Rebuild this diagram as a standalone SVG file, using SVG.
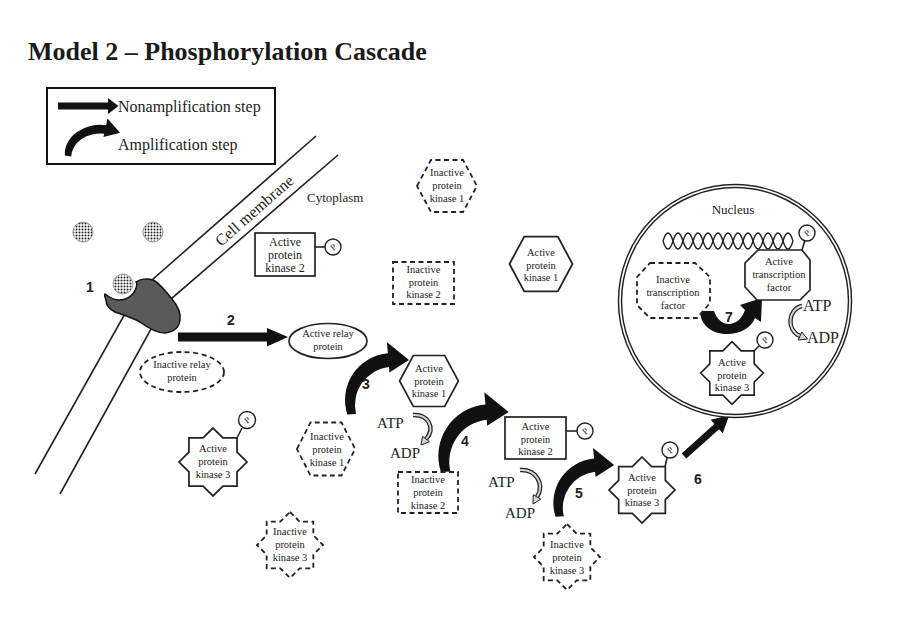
<svg xmlns="http://www.w3.org/2000/svg" width="906" height="617" viewBox="0 0 906 617">
<style>
text{font-family:"Liberation Serif","Times New Roman",serif;fill:#222}
.n{font-size:10.5px;text-anchor:middle}
.big{font-size:15px}
.num{font-family:"Liberation Sans",Arial,sans-serif;font-weight:bold;font-size:14px;text-anchor:middle;fill:#222}
.solid{fill:#fff;stroke:#222;stroke-width:1.7}
.dash{fill:#fff;stroke:#222;stroke-width:1.8;stroke-dasharray:5 3.5}
.line{fill:none;stroke:#222;stroke-width:1.6}
.blk{fill:#111}
.pc{fill:#fff;stroke:#222;stroke-width:1.4}
.pt{font-size:9px;text-anchor:middle}
.hol{fill:none;stroke:#222;stroke-width:4.5}
.holi{fill:none;stroke:#d4d4d4;stroke-width:2}
.hh{fill:#d4d4d4;stroke:#222;stroke-width:1}
.lig{fill:url(#dots);stroke:#999;stroke-width:1}
</style>
<defs>
<pattern id="dots" width="3" height="3" patternUnits="userSpaceOnUse"><rect width="3" height="3" fill="#fff"/><circle cx="1.5" cy="1.5" r="1" fill="#222"/></pattern>
<polygon id="star" points="0,-33 9.67,-23.33 23.33,-23.33 23.33,-9.67 33,0 23.33,9.67 23.33,23.33 9.67,23.33 0,33 -9.67,23.33 -23.33,23.33 -23.33,9.67 -33,0 -23.33,-9.67 -23.33,-23.33 -9.67,-23.33"/>
<polygon id="hex" points="-30,0 -16,-26 16,-26 30,0 16,26 -16,26"/>
<path id="amp" d="M-44.7,14.5 A47,47 0 0 1 -4.1,-46.8 L-5.2,-58 L17,-40 L-2.6,-27.5 L-3,-33 A38.4,38.4 0 0 0 -36,14 Z"/>
</defs>

<rect width="906" height="617" fill="#fff"/>

<text x="28" y="60" font-size="26" font-weight="bold" style="fill:#1a1a1a">Model 2 – Phosphorylation Cascade</text>

<g id="legend">
<rect x="47" y="88" width="228" height="76" fill="#fff" stroke="#111" stroke-width="2"/>
<polygon class="blk" points="58,102.5 108,102.5 108,98 118.5,106 108,114 108,109.5 58,109.5"/>
<use href="#amp" class="blk" transform="translate(100,154) scale(0.75,0.62) rotate(15)"/>
<text x="118" y="112" font-size="16">Nonamplification step</text>
<text x="118" y="150" font-size="16">Amplification step</text>
</g>

<g id="membrane">
<polyline class="line" points="316,136 136,294 35,474"/>
<polyline class="line" points="338,155 164.5,304.6 60,494"/>
<text transform="translate(221,247) rotate(-41.3)" font-size="16">Cell membrane</text>
</g>

<text id="cytoplasm" x="307" y="202" font-size="13">Cytoplasm</text>

<g id="ligand1"><circle class="lig" cx="83" cy="232" r="10"/></g>
<g id="ligand2"><circle class="lig" cx="153" cy="232" r="10"/></g>

<g id="receptor">
<path d="M105,294 C109,297 114,300 119,300 C127,300 134,295 136,288 C137,285 137,283 136,282 C140,279 147,278 153,280 C160,283 166,292 172,299 C177,305 181,313 180,320 C179,327 174,332 165,333 C156,333 148,328 140,322 C133,318 124,315 115,312 C109,309 106,305 106,300 C105,297 104,295 105,294 Z" fill="#5a5a5a" stroke="#111" stroke-width="1.5"/>
<circle class="lig" cx="123" cy="284" r="10"/>
</g>

<g id="connectors">
<polygon class="blk" points="178,332.5 267,332.5 267,328 288,337 267,346.5 267,341.5 178,341.5"/>
<use href="#amp" class="blk" transform="translate(392,400)"/>
<use href="#amp" class="blk" transform="translate(490,456) scale(1.1)"/>
<use href="#amp" class="blk" transform="translate(598,503) scale(0.95)"/>
<polygon class="blk" transform="translate(684,456) rotate(-42)" points="0,-3.5 44,-3.5 44,-9 61,0 44,9 44,3.5 0,3.5"/>
<path class="blk" d="M700,311 C701,340 746,341 755,318 L761,322 L762,298 L740,305 L745,310 C739,328 720,329 714,311 Z"/>
<path class="hol" d="M413,415 C428,414 436,428 426,439"/>
<path class="holi" d="M413,415 C428,414 436,428 426,439"/>
<polygon class="hh" points="429.5,441.7 422.5,436.3 421,445"/>
<path class="hol" d="M520,470 C536,469 545,484 537,497"/>
<path class="holi" d="M520,470 C536,469 545,484 537,497"/>
<polygon class="hh" points="540.8,499.2 533.2,494.8 533,504"/>
<path class="hol" d="M802,306 C788,309 786,330 800,336"/>
<path class="holi" d="M802,306 C788,309 786,330 800,336"/>
<polygon class="hh" points="798.2,340 801.8,332 807.5,339"/>
<text class="num" x="90" y="292">1</text>
<text class="num" x="231" y="325">2</text>
<text class="num" x="366" y="389">3</text>
<text class="num" x="465" y="446">4</text>
<text class="num" x="579" y="498">5</text>
<text class="num" x="698" y="484">6</text>
<text class="num" x="729" y="322">7</text>
</g>

<g id="active-relay">
<ellipse class="solid" cx="328" cy="341" rx="39" ry="17.5"/>
<text class="n" x="328" y="337">Active relay</text>
<text class="n" x="328" y="350">protein</text>
</g>

<g id="inactive-relay">
<ellipse class="dash" cx="182" cy="372" rx="42" ry="20"/>
<text class="n" x="182" y="368">Inactive relay</text>
<text class="n" x="182" y="381">protein</text>
</g>

<g id="active-kinase2-top">
<rect class="solid" x="255" y="233" width="60" height="43"/>
<line class="line" x1="315" y1="247" x2="325" y2="247"/>
<circle class="pc" cx="333" cy="247" r="8"/>
<text class="pt" x="0" y="3.2" transform="translate(333,247) rotate(-40)">P</text>
<text class="n" x="285" y="246" style="font-size:12px">Active</text>
<text class="n" x="285" y="259" style="font-size:12px">protein</text>
<text class="n" x="285" y="272" style="font-size:12px">kinase 2</text>
</g>

<g id="inactive-kinase1-top">
<use href="#hex" class="dash" transform="translate(447,186)"/>
<text class="n" x="447" y="176">Inactive</text>
<text class="n" x="447" y="189">protein</text>
<text class="n" x="447" y="202">kinase 1</text>
</g>

<g id="inactive-kinase2-top">
<rect class="dash" x="393" y="262" width="61" height="42"/>
<text class="n" x="423.5" y="273">Inactive</text>
<text class="n" x="423.5" y="286">protein</text>
<text class="n" x="423.5" y="298">kinase 2</text>
</g>

<g id="active-kinase1-top">
<use href="#hex" class="solid" transform="translate(541,264) scale(1.05)"/>
<text class="n" x="541" y="256">Active</text>
<text class="n" x="541" y="269">protein</text>
<text class="n" x="541" y="281">kinase 1</text>
</g>

<g id="nucleus">
<circle cx="735" cy="301" r="115" fill="none" stroke="#222" stroke-width="4.5"/>
<circle cx="735" cy="301" r="115" fill="none" stroke="#fff" stroke-width="1.6"/>
<text x="733" y="214" font-size="13" text-anchor="middle">Nucleus</text>
<path class="line" style="stroke-width:1.4" d="M663,241 Q668,225 673,241 T683,241 T693,241 T703,241 T713,241 T723,241 T733,241 T743,241 T753,241 T763,241 T773,241 T783,241 T793,241"/>
<path class="line" style="stroke-width:1.4" d="M663,241 Q668,257 673,241 T683,241 T693,241 T703,241 T713,241 T723,241 T733,241 T743,241 T753,241 T763,241 T773,241 T783,241 T793,241"/>
</g>

<g id="active-tf">
<polygon class="solid" points="758,250 802,250 810,260 810,290 800,300 757,300 745,287 745,263"/>
<line class="line" x1="802" y1="250" x2="805" y2="240"/>
<circle class="pc" cx="807" cy="233" r="8"/>
<text class="pt" x="0" y="3.2" transform="translate(807,233) rotate(-40)">P</text>
<text class="n" x="779" y="265">Active</text>
<text class="n" x="779" y="278">transcription</text>
<text class="n" x="779" y="291">factor</text>
</g>

<g id="inactive-tf">
<polygon class="dash" points="650,263 695,263 710,277 710,303 697,318 650,318 637,305 637,277"/>
<text class="n" x="673" y="283">Inactive</text>
<text class="n" x="673" y="296">transcription</text>
<text class="n" x="673" y="309">factor</text>
</g>

<g id="atp-adp-nucleus">
<text class="big" x="803" y="311" style="font-size:16px">ATP</text>
<text class="big" x="807" y="343" style="font-size:16px">ADP</text>
</g>

<g id="active-kinase3-nucleus">
<use href="#star" class="solid" transform="translate(732,373) scale(0.95)"/>
<line class="line" x1="754" y1="351" x2="759" y2="346"/>
<circle class="pc" cx="765" cy="340" r="8"/>
<text class="pt" x="0" y="3.2" transform="translate(765,340) rotate(-40)">P</text>
<text class="n" x="732" y="366">Active</text>
<text class="n" x="732" y="379">protein</text>
<text class="n" x="732" y="391">kinase 3</text>
</g>

<g id="active-kinase3-step6">
<use href="#star" class="solid" transform="translate(642,490)"/>
<line class="line" x1="665" y1="467" x2="667" y2="458"/>
<circle class="pc" cx="670" cy="450" r="8"/>
<text class="pt" x="0" y="3.2" transform="translate(670,450) rotate(-40)">P</text>
<text class="n" x="642" y="481">Active</text>
<text class="n" x="642" y="494">protein</text>
<text class="n" x="642" y="506">kinase 3</text>
</g>

<g id="active-kinase3-left">
<use href="#star" class="solid" transform="translate(213,462) scale(1.03)"/>
<line class="line" x1="237" y1="438" x2="242" y2="428"/>
<circle class="pc" cx="247" cy="420" r="8.5"/>
<text class="pt" x="0" y="3.2" transform="translate(247,420) rotate(-40)">P</text>
<text class="n" x="213" y="452">Active</text>
<text class="n" x="213" y="465">protein</text>
<text class="n" x="213" y="478">kinase 3</text>
</g>

<g id="inactive-kinase1-low">
<use href="#hex" class="dash" transform="translate(326,449) scale(0.97,1.02)"/>
<text class="n" x="327" y="440">Inactive</text>
<text class="n" x="327" y="453">protein</text>
<text class="n" x="327" y="466">kinase 1</text>
</g>

<g id="inactive-kinase3-left">
<use href="#star" class="dash" transform="translate(290,545)"/>
<text class="n" x="290" y="535">Inactive</text>
<text class="n" x="290" y="548">protein</text>
<text class="n" x="290" y="561">kinase 3</text>
</g>

<g id="active-kinase1-low">
<use href="#hex" class="solid" transform="translate(429,381) scale(0.98)"/>
<text class="n" x="429" y="372">Active</text>
<text class="n" x="429" y="385">protein</text>
<text class="n" x="429" y="397">kinase 1</text>
</g>

<g id="atp-adp-1">
<text class="big" x="377" y="428">ATP</text>
<text class="big" x="390" y="458">ADP</text>
</g>

<g id="inactive-kinase2-low">
<rect class="dash" x="398" y="472" width="60" height="41"/>
<text class="n" x="428" y="483">Inactive</text>
<text class="n" x="428" y="496">protein</text>
<text class="n" x="428" y="509">kinase 2</text>
</g>

<g id="active-kinase2-mid">
<rect class="solid" x="505" y="417" width="61" height="42"/>
<line class="line" x1="566" y1="431" x2="577" y2="431"/>
<circle class="pc" cx="585" cy="431" r="8"/>
<text class="pt" x="0" y="3.2" transform="translate(585,431) rotate(-40)">P</text>
<text class="n" x="535.5" y="430">Active</text>
<text class="n" x="535.5" y="443">protein</text>
<text class="n" x="535.5" y="455">kinase 2</text>
</g>

<g id="atp-adp-2">
<text class="big" x="488" y="487">ATP</text>
<text class="big" x="505" y="518">ADP</text>
</g>

<g id="inactive-kinase3-right">
<use href="#star" class="dash" transform="translate(567,557)"/>
<text class="n" x="567" y="548">Inactive</text>
<text class="n" x="567" y="561">protein</text>
<text class="n" x="567" y="574">kinase 3</text>
</g>
</svg>
